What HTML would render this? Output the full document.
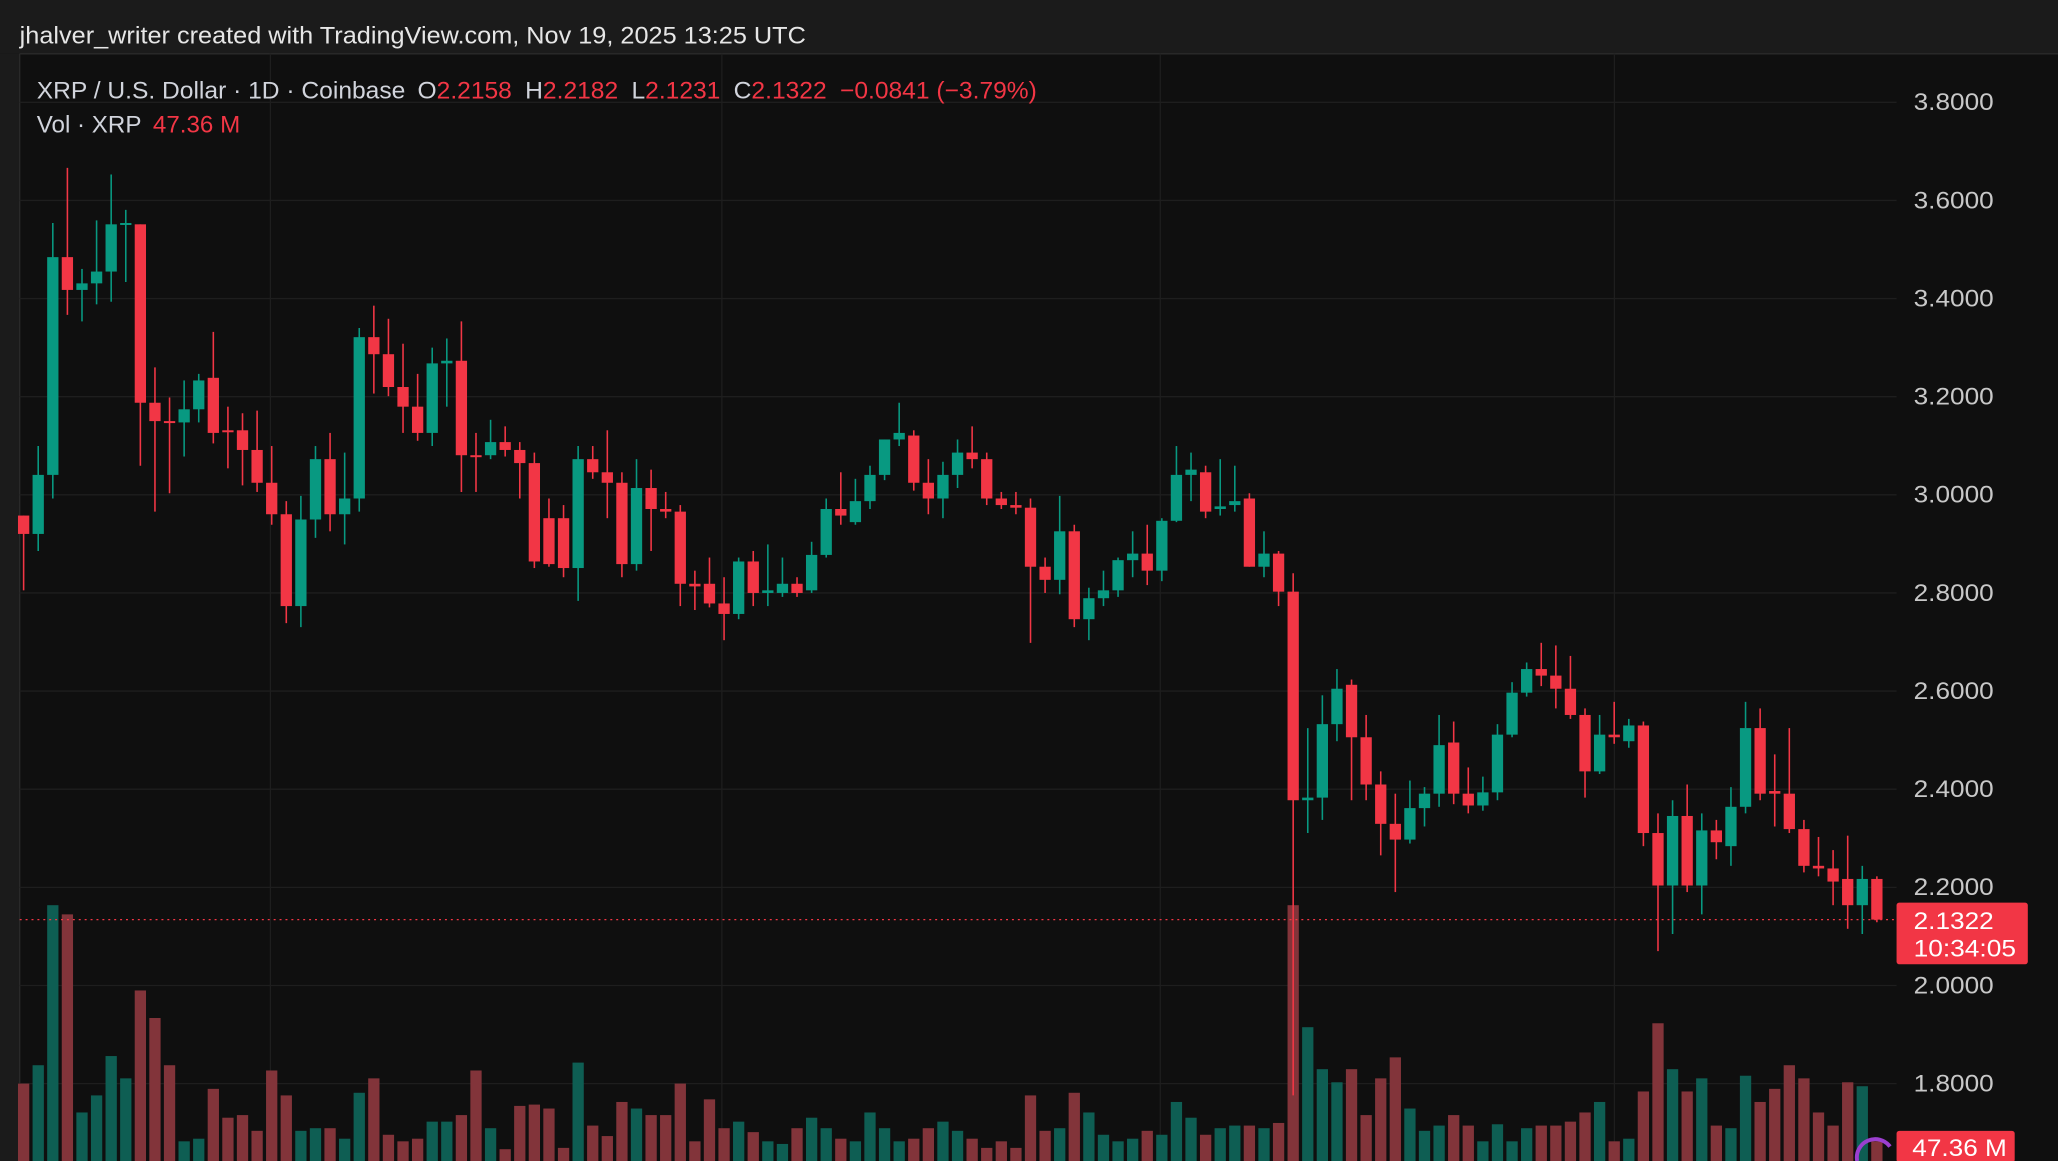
<!DOCTYPE html>
<html><head><meta charset="utf-8"><style>
html,body{margin:0;padding:0;background:#0f0f0f;}
svg{display:block;font-family:"Liberation Sans",sans-serif;}
</style></head><body>
<svg id="c" width="2058" height="1161" viewBox="0 0 1568 885" preserveAspectRatio="none" xmlns="http://www.w3.org/2000/svg">
<rect x="0" y="0" width="1568" height="885" fill="#0f0f0f"/>
<rect x="0" y="0" width="1568" height="41" fill="#1b1b1b"/>
<rect x="0" y="41" width="15" height="844" fill="#1b1b1b"/>
<line x1="15" y1="41" x2="1568" y2="41" fill="none" stroke="#2a2a2a"/>
<line x1="15" y1="41" x2="15" y2="885" stroke="#2a2a2a"/>
<g id="grid" stroke="#1e1e1e" stroke-width="1"></g>
<g id="vol"></g>
<line x1="15" y1="701" x2="1445" y2="701" stroke="#f23645" stroke-width="1" stroke-dasharray="1.5,3"/>
<g id="cand"></g>
<text x="15" y="33" fill="#e6e6e6" font-size="18" textLength="599" lengthAdjust="spacingAndGlyphs">jhalver_writer created with TradingView.com, Nov 19, 2025 13:25 UTC</text>
<text x="28" y="75" font-size="18.5" fill="#d1d4dc" textLength="762" lengthAdjust="spacingAndGlyphs">XRP / U.S. Dollar · 1D · Coinbase <tspan dx="4">O</tspan><tspan fill="#f23645">2.2158</tspan><tspan dx="10">H</tspan><tspan fill="#f23645">2.2182</tspan><tspan dx="10">L</tspan><tspan fill="#f23645">2.1231</tspan><tspan dx="10">C</tspan><tspan fill="#f23645">2.1322</tspan><tspan dx="10" fill="#f23645">−0.0841 (−3.79%)</tspan></text>
<text x="28" y="101" font-size="18.5" fill="#d1d4dc" textLength="155" lengthAdjust="spacingAndGlyphs">Vol · XRP <tspan dx="4" fill="#f23645">47.36 M</tspan></text>
<g id="ax" font-size="18.5" fill="#c8c8c8"></g>
<rect x="1445" y="688" width="100" height="47" rx="2" fill="#f23645"/>
<text x="1458" y="708" font-size="18.5" fill="#fff" textLength="61" lengthAdjust="spacingAndGlyphs">2.1322</text>
<text x="1458" y="729" font-size="18.5" fill="#fff" textLength="78" lengthAdjust="spacingAndGlyphs">10:34:05</text>
<rect x="1445" y="862" width="90" height="24" rx="2" fill="#f23645"/>
<text x="1457" y="881" font-size="18.5" fill="#fff" textLength="72" lengthAdjust="spacingAndGlyphs">47.36 M</text>
<path d="M1415 885 A14 14 0 0 1 1440 874" stroke="#9c3fd0" stroke-width="3" fill="none"/>
</svg>
<script>
var NS="http://www.w3.org/2000/svg";
function el(p,t,a){var e=document.createElementNS(NS,t);for(var k in a)e.setAttribute(k,a[k]);p.appendChild(e);return e;}
var g=document.getElementById('grid'),ax=document.getElementById('ax');
var labels=["3.8000","3.6000","3.4000","3.2000","3.0000","2.8000","2.6000","2.4000","2.2000","2.0000","1.8000"];
for(var i=0;i<11;i++){var y=78+i*74.8;el(g,'line',{x1:15,x2:1445,y1:y,y2:y});var t=el(ax,'text',{x:1458,y:y+6,textLength:61,lengthAdjust:'spacingAndGlyphs'});t.textContent=labels[i];}
[206,550,884,1230].forEach(function(x){el(g,'line',{x1:x,x2:x,y1:41,y2:885});});
var C=[[393,393,450,407],[407,340,420,362],[362,170,380,196],[196,128,240,221],[221,205,245,216],[216,168,232,207],[207,133,230,171],[171,160,215,170],[171,171,355,307],[307,280,390,321],[321,303,376,322],[322,290,348,312],[312,285,322,290],[288,253,338,330],[328,310,357,329],[328,315,370,343],[343,313,375,368],[368,340,400,392],[392,382,475,462],[462,378,478,396],[396,340,410,350],[350,330,405,392],[392,345,415,380],[380,250,390,257],[257,233,300,270],[270,243,302,295],[295,262,330,310],[310,285,336,330],[330,265,340,277],[277,258,310,275],[275,245,375,347],[347,330,375,348],[347,320,350,337],[337,325,348,343],[343,337,380,353],[353,345,433,428],[395,380,432,430],[395,385,440,433],[433,340,458,350],[350,340,365,360],[360,328,395,368],[368,360,440,430],[430,350,435,372],[372,358,420,388],[388,375,395,390],[390,385,462,445],[445,435,465,447],[445,425,463,460],[460,440,488,468],[468,425,472,428],[428,420,462,452],[452,415,462,450],[452,425,455,445],[445,440,455,452],[450,413,452,423],[423,380,425,388],[388,360,400,393],[398,365,400,382],[382,355,388,362],[362,335,366,335],[335,307,340,330],[332,328,374,368],[368,350,392,380],[380,352,395,362],[362,335,372,345],[345,325,357,350],[350,345,385,380],[380,375,388,385],[385,375,392,387],[387,380,490,432],[432,425,452,442],[442,378,453,405],[405,400,478,472],[472,448,488,456],[456,435,462,450],[450,425,455,427],[427,405,440,422],[422,400,446,435],[435,395,443,397],[397,340,398,362],[362,345,382,358],[360,355,395,390],[388,350,393,386],[385,355,390,382],[380,376,432,432],[432,405,440,422],[422,420,462,451],[451,437,835,610],[610,555,635,608],[608,530,625,552],[552,510,565,525],[522,518,610,562],[562,545,610,598],[598,588,652,628],[628,605,680,640],[640,595,643,616],[616,600,630,605],[605,545,615,568],[566,550,613,605],[605,585,620,614],[614,592,618,604],[604,552,610,560],[560,520,562,528],[528,505,531,510],[510,490,523,515],[515,492,540,525],[525,500,548,545],[545,540,608,588],[588,545,590,560],[560,535,567,562],[565,548,570,553],[553,550,645,635],[635,620,725,675],[675,610,712,622],[622,598,680,675],[675,620,697,633],[633,625,655,642],[645,600,660,615],[615,535,620,555],[555,540,610,605],[603,575,630,605],[605,555,635,632],[632,625,665,660],[660,638,668,662],[662,648,690,672],[670,637,708,690],[690,660,712,670],[670,668,703,701]];
var V=[826,812,690,697,848,835,805,822,755,776,812,870,868,830,852,850,862,816,835,862,860,860,868,833,822,865,870,868,855,855,850,816,860,876,843,842,845,875,810,858,866,840,845,850,850,826,870,838,860,855,863,870,872,860,852,860,868,870,848,860,870,868,860,855,862,868,875,870,875,835,862,860,833,848,865,870,868,862,865,840,852,865,860,858,858,860,856,690,783,815,825,815,850,822,806,845,862,858,850,858,870,857,870,860,858,858,855,848,840,870,868,832,780,815,832,822,858,860,820,840,830,812,822,848,858,825,828,870];
var cg=document.getElementById('cand'),vg=document.getElementById('vol');
var n=C.length,x0=18,x1=1430,step=(x1-x0)/(n-1);
for(var i=0;i<n;i++){var x=x0+i*step,c=C[i],up=c[3]<c[0];var col=up?"#089981":"#f23645";
var vt=V[i]||870;el(vg,'rect',{x:x-4.3,y:vt,width:8.6,height:885-vt,fill:up?"#0e5e53":"#82343a"});
el(cg,'line',{x1:x,x2:x,y1:c[1],y2:c[2],stroke:col,'stroke-width':1.2});
var t=Math.min(c[0],c[3]),h=Math.max(1.5,Math.abs(c[3]-c[0]));
el(cg,'rect',{x:x-4.3,y:t,width:8.6,height:h,fill:col});}
</script>
</body></html>
